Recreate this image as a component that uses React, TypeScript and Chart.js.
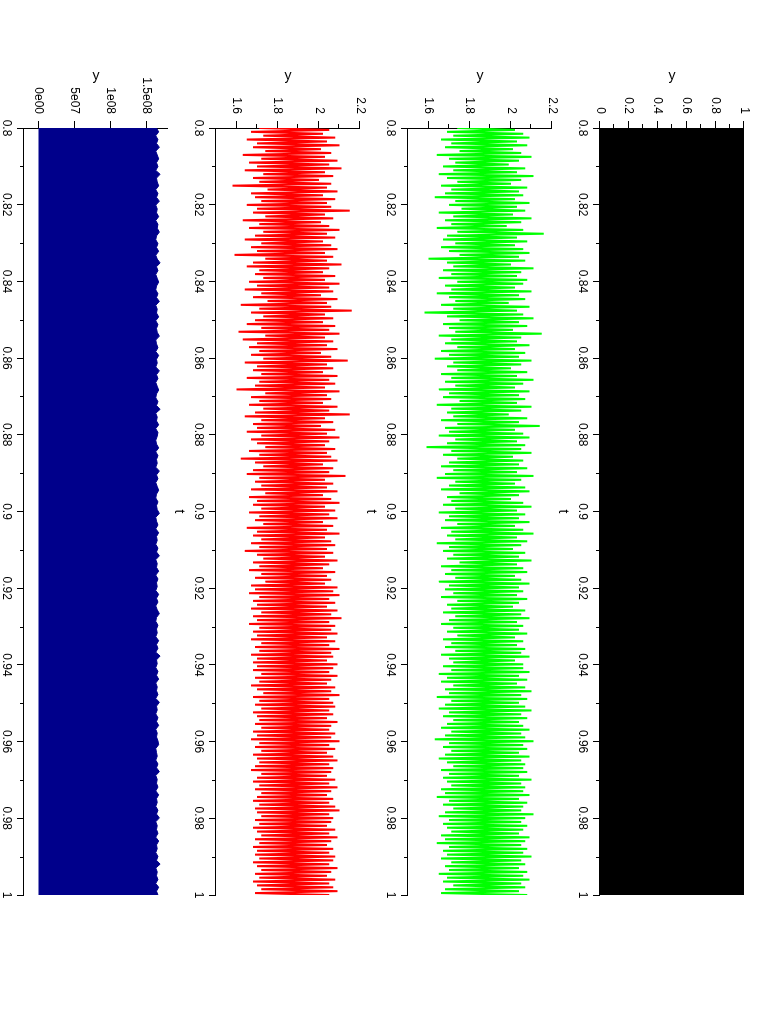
import React, { useEffect, useRef } from "react";
import { Chart, registerables } from "chart.js";

Chart.register(...registerables);

// ---------- axis ticks ----------
const tMin = 0.8;
const tMax = 1.0;
const tTickValues = [0.8, 0.82, 0.84, 0.86, 0.88, 0.9, 0.92, 0.94, 0.96, 0.98, 1.0];
const tTickLabels = ["0.8", "0.82", "0.84", "0.86", "0.88", "0.9", "0.92", "0.94", "0.96", "0.98", "1"];
const tMinorTicks = [0.81, 0.83, 0.85, 0.87, 0.89, 0.91, 0.93, 0.95, 0.97, 0.99];

const blackTickValues = [0, 0.2, 0.4, 0.6, 0.8, 1];
const blackTickLabels = ["0", "0.2", "0.4", "0.6", "0.8", "1"];
const blackMinorTicks = [0.1, 0.3, 0.5, 0.7, 0.9];

const concTickValues = [1.6, 1.8, 2.0, 2.2];
const concTickLabels = ["1.6", "1.8", "2", "2.2"];
const concMinorTicks = [1.7, 1.9, 2.1];

const blueTickValues = [0, 5e7, 1e8, 1.5e8];
const blueTickLabels = ["0e00", "5e07", "1e08", "1.5e08"];
const blueMinorTicks: number[] = [];

// ---------- series values ----------
const blackValues = [1, 1, 1, 1, 1, 1, 1, 1, 1, 1, 1, 1, 1, 1, 1, 1, 1, 1, 1, 1, 1];

const greenValues = [
  1.74, 2.02, 1.69, 2.06, 1.72, 2.09, 1.66, 2.03, 1.71, 2.08, 1.68, 2.01, 1.75, 2.05, 1.64, 2.10, 1.70, 2.04, 1.73, 1.99,
  1.67, 2.07, 1.72, 2.03, 1.65, 2.11, 1.69, 2.05, 1.74, 2.00, 1.66, 2.08, 1.71, 2.04, 1.68, 2.06, 1.63, 2.02, 1.73, 2.09,
  1.70, 2.03, 1.76, 2.07, 1.65, 2.01, 1.72, 2.10, 1.68, 2.05, 1.71, 1.98, 1.64, 2.06, 1.74, 2.16, 1.69, 2.03, 1.67, 2.08,
  1.73, 2.02, 1.66, 2.06, 1.70, 2.09, 1.75, 2.04, 1.60, 2.07, 1.69, 2.00, 1.72, 2.11, 1.67, 2.05, 1.71, 2.03, 1.65, 2.08,
  1.74, 2.06, 1.68, 2.02, 1.71, 2.10, 1.64, 2.04, 1.70, 2.07, 1.73, 1.99, 1.66, 2.09, 1.72, 2.03, 1.58, 2.06, 1.69, 2.11,
  1.75, 2.04, 1.67, 2.08, 1.70, 2.01, 1.73, 2.15, 1.65, 2.05, 1.71, 2.03, 1.68, 2.09, 1.74, 2.02, 1.66, 2.07, 1.70, 2.04,
  1.63, 2.10, 1.72, 2.05, 1.69, 2.00, 1.74, 2.08, 1.66, 2.03, 1.71, 2.11, 1.68, 2.06, 1.73, 2.02, 1.65, 2.09, 1.70, 2.04,
  1.67, 2.07, 1.75, 2.03, 1.64, 2.10, 1.71, 2.05, 1.69, 1.99, 1.72, 2.08, 1.66, 2.04, 1.74, 2.14, 1.68, 2.02, 1.70, 2.06,
  1.65, 2.09, 1.73, 2.03, 1.69, 2.07, 1.59, 2.05, 1.71, 2.10, 1.67, 2.01, 1.74, 2.06, 1.70, 2.04, 1.66, 2.08, 1.72, 2.03,
  1.68, 2.11, 1.64, 2.05, 1.73, 2.02, 1.70, 2.07, 1.66, 2.09, 1.75, 2.04, 1.69, 2.00, 1.71, 2.06, 1.67, 2.10, 1.73, 2.03,
  1.65, 2.07, 1.70, 2.04, 1.68, 2.09, 1.74, 2.02, 1.66, 2.06, 1.71, 2.11, 1.69, 2.03, 1.73, 2.08, 1.64, 2.05, 1.70, 2.01,
  1.67, 2.07, 1.72, 2.04, 1.69, 2.10, 1.75, 2.03, 1.66, 2.06, 1.71, 2.08, 1.68, 2.02, 1.73, 2.05, 1.65, 2.09, 1.70, 2.04,
  1.68, 2.06, 1.72, 2.03, 1.66, 2.08, 1.74, 2.04, 1.69, 2.01, 1.71, 2.07, 1.67, 2.05, 1.73, 2.09, 1.70, 2.03, 1.66, 2.06,
  1.72, 2.04, 1.69, 2.08, 1.74, 2.02, 1.67, 2.06, 1.71, 2.03, 1.68, 2.07, 1.73, 2.05, 1.66, 2.09, 1.70, 2.02, 1.72, 2.06,
  1.67, 2.06, 1.71, 2.09, 1.65, 2.04, 1.69, 2.08, 1.66, 2.03, 1.72, 2.07, 1.68, 2.10, 1.70, 2.05, 1.64, 2.08, 1.71, 2.04,
  1.68, 2.07, 1.65, 2.10, 1.70, 2.05, 1.67, 2.08, 1.72, 2.04, 1.69, 2.06, 1.66, 2.09, 1.71, 2.05, 1.68, 2.07, 1.63, 2.11,
  1.70, 2.06, 1.67, 2.08, 1.71, 2.04, 1.68, 2.09, 1.65, 2.05, 1.69, 2.07, 1.72, 2.06, 1.66, 2.08, 1.70, 2.04, 1.67, 2.10,
  1.69, 2.05, 1.71, 2.07, 1.66, 2.06, 1.68, 2.09, 1.64, 2.04, 1.70, 2.08, 1.67, 2.06, 1.72, 2.05, 1.68, 2.11, 1.65, 2.07,
  1.70, 2.05, 1.67, 2.08, 1.69, 2.06, 1.71, 2.04, 1.66, 2.09, 1.68, 2.07, 1.64, 2.05, 1.70, 2.08, 1.67, 2.06, 1.69, 2.10,
  1.66, 2.05, 1.71, 2.07, 1.68, 2.04, 1.70, 2.08, 1.65, 2.06, 1.69, 2.09, 1.67, 2.05, 1.72, 2.07, 1.68, 2.04, 1.66, 2.08,
];

const redValues = [
  1.71, 2.05, 1.67, 2.02, 1.73, 2.08, 1.65, 2.04, 1.70, 2.10, 1.68, 2.01, 1.74, 2.06, 1.63, 2.03, 1.72, 2.09, 1.66, 2.05,
  1.70, 2.11, 1.64, 2.03, 1.73, 2.07, 1.68, 2.00, 1.71, 2.06, 1.58, 2.04, 1.75, 2.09, 1.67, 2.02, 1.69, 2.08, 1.72, 2.04,
  1.65, 2.06, 1.70, 2.15, 1.68, 2.03, 1.74, 2.07, 1.63, 2.01, 1.71, 2.05, 1.66, 2.10, 1.73, 2.04, 1.69, 2.08, 1.64, 2.02,
  1.72, 2.06, 1.67, 2.09, 1.70, 2.03, 1.59, 2.07, 1.74, 2.04, 1.68, 2.11, 1.65, 2.05, 1.71, 2.02, 1.69, 2.08, 1.73, 2.03,
  1.66, 2.10, 1.70, 2.05, 1.64, 2.07, 1.72, 2.01, 1.68, 2.09, 1.75, 2.04, 1.62, 2.06, 1.71, 2.16, 1.67, 2.03, 1.73, 2.07,
  1.69, 2.02, 1.65, 2.08, 1.72, 2.05, 1.61, 2.10, 1.74, 2.03, 1.63, 2.07, 1.70, 2.04, 1.66, 2.09, 1.71, 2.01, 1.67, 2.06,
  1.73, 2.14, 1.64, 2.04, 1.70, 2.07, 1.68, 2.02, 1.72, 2.09, 1.65, 2.05, 1.71, 2.08, 1.69, 2.03, 1.60, 2.10, 1.74, 2.04,
  1.67, 2.06, 1.71, 2.02, 1.66, 2.09, 1.73, 2.05, 1.69, 2.15, 1.64, 2.03, 1.72, 2.07, 1.68, 2.01, 1.70, 2.08, 1.65, 2.04,
  1.72, 2.10, 1.67, 2.05, 1.70, 2.03, 1.74, 2.08, 1.66, 2.04, 1.71, 2.06, 1.62, 2.09, 1.69, 2.02, 1.73, 2.07, 1.68, 2.05,
  1.65, 2.13, 1.71, 2.03, 1.69, 2.07, 1.72, 2.04, 1.67, 2.09, 1.74, 2.02, 1.66, 2.06, 1.70, 2.10, 1.68, 2.03, 1.72, 2.08,
  1.66, 2.05, 1.71, 2.09, 1.69, 2.02, 1.73, 2.07, 1.65, 2.04, 1.70, 2.10, 1.68, 2.03, 1.72, 2.06, 1.67, 2.08, 1.71, 2.04,
  1.64, 2.07, 1.70, 2.03, 1.73, 2.09, 1.68, 2.05, 1.71, 2.02, 1.66, 2.08, 1.72, 2.04, 1.69, 2.06, 1.74, 2.03, 1.67, 2.09,
  1.69, 2.07, 1.66, 2.10, 1.71, 2.05, 1.68, 2.08, 1.70, 2.04, 1.67, 2.09, 1.72, 2.06, 1.68, 2.11, 1.70, 2.05, 1.66, 2.08,
  1.71, 2.06, 1.68, 2.09, 1.70, 2.04, 1.67, 2.08, 1.72, 2.05, 1.69, 2.10, 1.71, 2.06, 1.67, 2.07, 1.70, 2.04, 1.68, 2.09,
  1.70, 2.07, 1.68, 2.05, 1.72, 2.09, 1.69, 2.06, 1.71, 2.04, 1.67, 2.08, 1.70, 2.06, 1.73, 2.10, 1.68, 2.05, 1.71, 2.07,
  1.69, 2.08, 1.72, 2.05, 1.68, 2.07, 1.70, 2.04, 1.71, 2.09, 1.69, 2.06, 1.72, 2.05, 1.68, 2.08, 1.70, 2.06, 1.67, 2.10,
  1.71, 2.05, 1.69, 2.08, 1.72, 2.04, 1.68, 2.07, 1.70, 2.09, 1.71, 2.05, 1.69, 2.07, 1.67, 2.06, 1.72, 2.04, 1.70, 2.08,
  1.68, 2.05, 1.71, 2.09, 1.69, 2.06, 1.72, 2.04, 1.70, 2.07, 1.68, 2.05, 1.71, 2.08, 1.69, 2.10, 1.70, 2.05, 1.72, 2.07,
  1.69, 2.06, 1.71, 2.04, 1.68, 2.08, 1.70, 2.05, 1.72, 2.09, 1.69, 2.06, 1.71, 2.04, 1.68, 2.07, 1.70, 2.05, 1.69, 2.08,
  1.71, 2.07, 1.68, 2.05, 1.70, 2.09, 1.72, 2.06, 1.69, 2.04, 1.71, 2.08, 1.68, 2.05, 1.70, 2.07, 1.72, 2.09, 1.69, 2.05,
];

const blueValues = [
  1.64e8, 1.67e8, 1.63e8, 1.66e8, 1.64e8, 1.68e8, 1.63e8, 1.65e8, 1.67e8, 1.64e8, 1.66e8, 1.63e8, 1.69e8, 1.64e8, 1.65e8, 1.67e8, 1.63e8, 1.66e8, 1.64e8, 1.68e8,
  1.63e8, 1.65e8, 1.64e8, 1.67e8, 1.63e8, 1.66e8, 1.65e8, 1.68e8, 1.64e8, 1.63e8, 1.66e8, 1.64e8, 1.67e8, 1.63e8, 1.65e8, 1.69e8, 1.64e8, 1.66e8, 1.63e8, 1.65e8,
  1.67e8, 1.64e8, 1.63e8, 1.66e8, 1.64e8, 1.68e8, 1.63e8, 1.65e8, 1.64e8, 1.67e8, 1.63e8, 1.66e8, 1.64e8, 1.65e8, 1.68e8, 1.63e8, 1.64e8, 1.66e8, 1.63e8, 1.67e8,
  1.64e8, 1.65e8, 1.63e8, 1.68e8, 1.64e8, 1.66e8, 1.63e8, 1.65e8, 1.67e8, 1.64e8, 1.63e8, 1.66e8, 1.64e8, 1.69e8, 1.63e8, 1.65e8, 1.64e8, 1.67e8, 1.63e8, 1.66e8,
  1.65e8, 1.63e8, 1.64e8, 1.67e8, 1.63e8, 1.66e8, 1.64e8, 1.65e8, 1.63e8, 1.68e8, 1.64e8, 1.66e8, 1.63e8, 1.65e8, 1.67e8, 1.64e8, 1.63e8, 1.66e8, 1.64e8, 1.65e8,
  1.68e8, 1.63e8, 1.64e8, 1.66e8, 1.63e8, 1.67e8, 1.64e8, 1.65e8, 1.63e8, 1.66e8, 1.64e8, 1.68e8, 1.63e8, 1.65e8, 1.64e8, 1.67e8, 1.63e8, 1.66e8, 1.64e8, 1.65e8,
  1.63e8, 1.67e8, 1.64e8, 1.66e8, 1.63e8, 1.65e8, 1.68e8, 1.64e8, 1.63e8, 1.66e8, 1.64e8, 1.65e8, 1.63e8, 1.67e8, 1.64e8, 1.66e8, 1.63e8, 1.69e8, 1.64e8, 1.65e8,
  1.63e8, 1.66e8, 1.64e8, 1.67e8, 1.63e8, 1.65e8, 1.64e8, 1.66e8, 1.63e8, 1.68e8, 1.64e8, 1.65e8, 1.63e8, 1.66e8, 1.64e8, 1.67e8, 1.63e8, 1.65e8, 1.64e8, 1.66e8,
  1.67e8, 1.63e8, 1.64e8, 1.65e8, 1.63e8, 1.66e8, 1.64e8, 1.68e8, 1.63e8, 1.65e8, 1.64e8, 1.66e8, 1.63e8, 1.67e8, 1.64e8, 1.65e8, 1.63e8, 1.66e8, 1.64e8, 1.68e8,
  1.63e8, 1.65e8, 1.64e8, 1.66e8, 1.63e8, 1.67e8, 1.64e8, 1.65e8, 1.63e8, 1.66e8, 1.64e8, 1.69e8, 1.63e8, 1.65e8, 1.64e8, 1.66e8, 1.63e8, 1.67e8, 1.64e8, 1.66e8,
];

// ---------- layout constants (original, un-rotated frame) ----------
const FRAME_W = 1024;
const FRAME_H = 768;
const PANEL_STEP = 192;
const CANVAS_H = 215;
const AREA_TOP = 24;
const AREA_BOTTOM = 168;
const AREA_LEFT = 128;
const AREA_RIGHT = 895;
const FONT_FAMILY = "'Liberation Sans', Arial, Helvetica, sans-serif";

type PanelDef = {
  values: number[];
  color: string;
  fill: boolean;
  lineWidth: number;
  yMin: number;
  yMax: number;
  yTicks: number[];
  yLabels: string[];
  yMinor: number[];
};

const panels: PanelDef[] = [
  { values: blackValues, color: "#000000", fill: true, lineWidth: 1, yMin: 0, yMax: 1, yTicks: blackTickValues, yLabels: blackTickLabels, yMinor: blackMinorTicks },
  { values: greenValues, color: "#00ff00", fill: false, lineWidth: 2, yMin: 1.5, yMax: 2.2, yTicks: concTickValues, yLabels: concTickLabels, yMinor: concMinorTicks },
  { values: redValues, color: "#ff0000", fill: false, lineWidth: 2, yMin: 1.5, yMax: 2.2, yTicks: concTickValues, yLabels: concTickLabels, yMinor: concMinorTicks },
  { values: blueValues, color: "#00008b", fill: true, lineWidth: 1, yMin: -2e7, yMax: 1.8e8, yTicks: blueTickValues, yLabels: blueTickLabels, yMinor: blueMinorTicks },
];

const minorTickPlugin = {
  id: "minorTicks",
  afterDraw(chart: any, _args: any, opts: any) {
    const { ctx, chartArea, scales } = chart;
    const xs = scales.x;
    const ys = scales.y;
    ctx.save();
    ctx.strokeStyle = "#000";
    ctx.lineWidth = 1;
    ctx.beginPath();
    (opts.xMinor || []).forEach((v: number) => {
      const px = Math.round(xs.getPixelForValue(v)) + 0.5;
      ctx.moveTo(px, chartArea.bottom);
      ctx.lineTo(px, chartArea.bottom + 4);
    });
    (opts.yMinor || []).forEach((v: number) => {
      const py = Math.round(ys.getPixelForValue(v)) + 0.5;
      ctx.moveTo(chartArea.left - 4, py);
      ctx.lineTo(chartArea.left, py);
    });
    ctx.stroke();
    ctx.restore();
  },
};

function Panel({ def, top }: { def: PanelDef; top: number }) {
  const ref = useRef<HTMLCanvasElement | null>(null);
  useEffect(() => {
    if (!ref.current) return;
    const n = def.values.length;
    const points = def.values.map((v, i) => ({ x: tMin + ((tMax - tMin) * i) / (n - 1), y: v }));
    const chart = new Chart(ref.current, {
      type: "line",
      data: {
        datasets: [
          {
            data: points,
            borderColor: def.color,
            backgroundColor: def.color,
            borderWidth: def.lineWidth,
            pointRadius: 0,
            tension: 0,
            fill: def.fill ? "origin" : false,
          },
        ],
      },
      options: {
        animation: false,
        responsive: false,
        devicePixelRatio: 1,
        events: [],
        layout: { padding: { top: AREA_TOP, left: 0, right: FRAME_W - AREA_RIGHT, bottom: 0 } },
        plugins: {
          legend: { display: false },
          tooltip: { enabled: false },
          minorTicks: { xMinor: tMinorTicks, yMinor: def.yMinor },
        } as any,
        scales: {
          x: {
            type: "linear",
            min: tMin,
            max: tMax,
            afterBuildTicks: (scale: any) => {
              scale.ticks = tTickValues.map((v) => ({ value: v }));
            },
            afterFit: (scale: any) => {
              scale.height = CANVAS_H - AREA_BOTTOM;
            },
            ticks: {
              autoSkip: false,
              maxRotation: 0,
              minRotation: 0,
              padding: 3,
              color: "#000",
              font: { family: FONT_FAMILY, size: 12 },
              callback: (_v: any, i: number) => tTickLabels[i],
            },
            grid: { display: true, drawOnChartArea: false, drawTicks: true, tickLength: 7, color: "#000", lineWidth: 1 },
            border: { display: true, color: "#000", width: 1 },
            title: { display: true, text: "t", color: "#000", font: { family: FONT_FAMILY, size: 14 }, padding: { top: 0, bottom: 1 } },
          },
          y: {
            type: "linear",
            min: def.yMin,
            max: def.yMax,
            afterBuildTicks: (scale: any) => {
              scale.ticks = def.yTicks.map((v) => ({ value: v }));
            },
            afterFit: (scale: any) => {
              scale.width = AREA_LEFT;
            },
            ticks: {
              autoSkip: false,
              padding: 7,
              color: "#000",
              font: { family: FONT_FAMILY, size: 12 },
              callback: (_v: any, i: number) => def.yLabels[i],
            },
            grid: { display: true, drawOnChartArea: false, drawTicks: true, tickLength: 7, color: "#000", lineWidth: 1 },
            border: { display: true, color: "#000", width: 1 },
            title: { display: true, text: "y", color: "#000", font: { family: FONT_FAMILY, size: 14 }, padding: { top: 68, bottom: 0 } },
          },
        },
      },
      plugins: [minorTickPlugin],
    } as any);
    return () => chart.destroy();
  }, [def]);
  return (
    <canvas
      ref={ref}
      width={FRAME_W}
      height={CANVAS_H}
      style={{ position: "absolute", left: 0, top, width: FRAME_W, height: CANVAS_H }}
    />
  );
}

export default function App() {
  return (
    <div
      style={{
        position: "fixed",
        left: 0,
        top: 0,
        width: FRAME_H,
        height: FRAME_W,
        overflow: "hidden",
        background: "#fff",
      }}
    >
      <div
        style={{
          position: "absolute",
          left: 0,
          top: 0,
          width: FRAME_W,
          height: FRAME_H,
          transformOrigin: "0 0",
          transform: `translateX(${FRAME_H}px) rotate(90deg)`,
        }}
      >
        {panels.map((p, i) => (
          <Panel key={i} def={p} top={i * PANEL_STEP} />
        ))}
      </div>
    </div>
  );
}
